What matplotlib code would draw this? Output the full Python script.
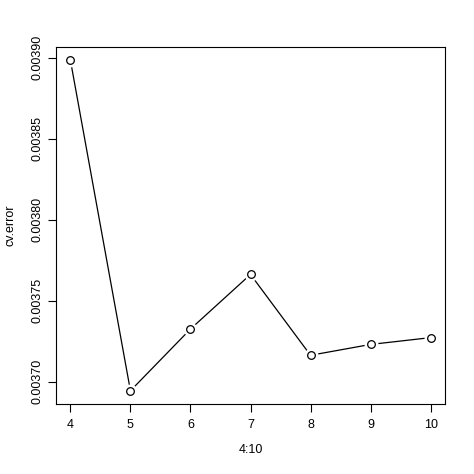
import matplotlib
matplotlib.use('Agg')
import matplotlib.pyplot as plt

plt.rcParams['font.family'] = ['Liberation Sans', 'DejaVu Sans']

# number of components vs cross-validation error
k = [4, 5, 6, 7, 8, 9, 10]
cv_error = [0.0038985, 0.0036945, 0.0037326, 0.0037663, 0.0037164, 0.0037231, 0.0037273]
y_ticks = [0.00370, 0.00375, 0.00380, 0.00385, 0.00390]

fig = plt.figure(figsize=(4.74, 4.74), dpi=100)
ax = fig.add_axes([56 / 474, 1 - 404 / 474, (445 - 56) / 474, (404 - 47) / 474])

# type="b" look: line, white gap around each point, then open circle
ax.plot(k, cv_error, color='black', linewidth=0.9)
ax.plot(k, cv_error, linestyle='none', marker='o', markersize=9,
        markerfacecolor='white', markeredgecolor='white')
ax.plot(k, cv_error, linestyle='none', marker='o', markersize=5.5,
        markerfacecolor='white', markeredgecolor='black', markeredgewidth=0.9)

ax.margins(x=0.04, y=0.04)
ax.set_xticks(k)
ax.set_yticks(y_ticks)
ax.set_yticklabels(['%.5f' % v for v in y_ticks], rotation=90, va='center')
ax.tick_params(direction='out', length=6, width=0.8, labelsize=9, pad=5)
ax.tick_params(axis='y', pad=3)
for s in ax.spines.values():
    s.set_linewidth(0.8)

ax.set_xlabel('4:10', fontsize=9, va='center')
ax.set_ylabel('cv.error', fontsize=9, va='center')
ax.xaxis.set_label_coords(0.5, (404 - 450) / 357)
ax.yaxis.set_label_coords((10 - 56) / 389, 0.5)

fig.savefig('out.png', dpi=100)
